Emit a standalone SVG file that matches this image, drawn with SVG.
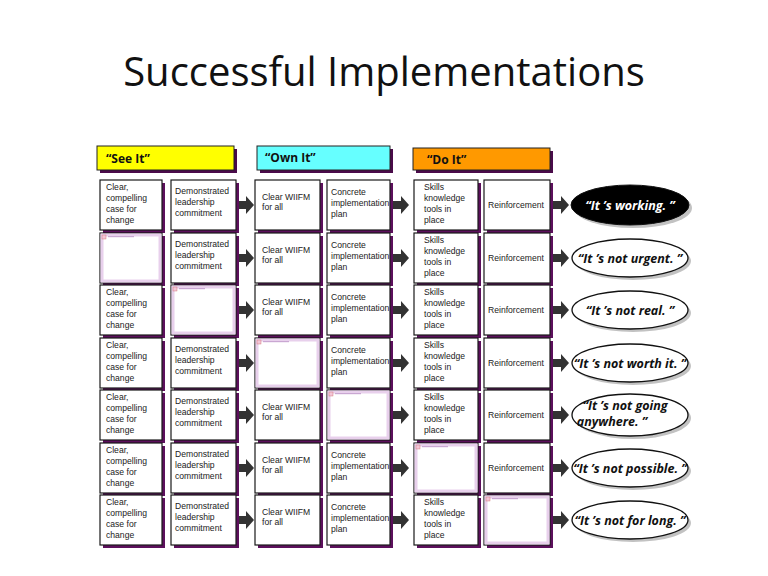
<svg xmlns="http://www.w3.org/2000/svg" xmlns:xlink="http://www.w3.org/1999/xlink" width="768" height="576" viewBox="0 0 768 576">
<style>
.sh{fill:#5c0f5c}
.b{fill:#fff;stroke:#1a1a1a;stroke-width:1.2}
.e{fill:#fff;stroke:#1a1a1a;stroke-width:1.2}
.g{fill:none;stroke:#e8d0ec;stroke-width:3}
.t{font-family:"Liberation Sans",Arial,sans-serif;font-size:8.6px;fill:#222}
.h{font-family:"Open Sans","Noto Sans",sans-serif;font-weight:bold;font-size:12px;fill:#111}
.a{fill:#333}
.q{font-family:"Open Sans","Noto Sans",sans-serif;font-weight:bold;font-style:italic;font-size:12.5px;fill:#111}
.el{fill:#fff;stroke:#111;stroke-width:1.3}
.es{fill:#999;opacity:.6}
</style>
<defs>
<g id="c1"><rect class="sh" x="103" y="3" width="62" height="50"/><rect class="b" x="100" y="0" width="62" height="50"/><text class="t" x="106"><tspan x="106" y="10">Clear,</tspan><tspan x="106" y="21">compelling</tspan><tspan x="106" y="32">case for</tspan><tspan x="106" y="43">change</tspan></text></g>
<g id="c2"><rect class="sh" x="174" y="3" width="65" height="50"/><rect class="b" x="171" y="0" width="65" height="50"/><text class="t"><tspan x="175" y="14">Demonstrated</tspan><tspan x="175" y="25">leadership</tspan><tspan x="175" y="36">commitment</tspan></text></g>
<g id="c3"><rect class="sh" x="258" y="3" width="65" height="50"/><rect class="b" x="255" y="0" width="65" height="50"/><text class="t"><tspan x="262" y="20">Clear WIIFM</tspan><tspan x="262" y="30">for all</tspan></text></g>
<g id="c4"><rect class="sh" x="330" y="3" width="63" height="50"/><rect class="b" x="327" y="0" width="63" height="50"/><text class="t"><tspan x="331" y="15">Concrete</tspan><tspan x="331" y="26">implementation</tspan><tspan x="331" y="37">plan</tspan></text></g>
<g id="c5"><rect class="sh" x="417" y="3" width="64" height="50"/><rect class="b" x="414" y="0" width="64" height="50"/><text class="t"><tspan x="424" y="10">Skills</tspan><tspan x="424" y="21">knowledge</tspan><tspan x="424" y="32">tools in</tspan><tspan x="424" y="43">place</tspan></text></g>
<g id="c6"><rect class="sh" x="487" y="3" width="66" height="50"/><rect class="b" x="484" y="0" width="66" height="50"/><text class="t" x="488" y="28">Reinforcement</text></g>
<g id="ar"><path class="a" d="M0 -4h9v-5l8 9l-8 9v-5h-9z"/></g>
<g id="ph"><rect x="2" y="2" width="4" height="4" fill="#f3c6d8" stroke="#c66" stroke-width=".4"/><rect x="8" y="3" width="26" height="1.2" fill="#c9a7d2"/></g>
</defs>
<text x="384" y="86" text-anchor="middle" font-family="'Open Sans','Noto Sans',sans-serif" font-size="40" fill="#111">Successful Implementations</text>
<g id="headers">
<g id="see"><rect x="100" y="149" width="137" height="24" fill="#4a0b4a"/><rect x="97" y="146" width="137" height="24" fill="#ffff00" stroke="#222"/><text class="h" x="106" y="163">“See It”</text></g>
<g id="own"><rect x="260" y="149" width="133" height="24" fill="#4a0b4a"/><rect x="257" y="146" width="133" height="24" fill="#66ffff" stroke="#222"/><text class="h" x="265" y="162">“Own It”</text></g>
<g id="do"><rect x="416" y="151" width="137" height="22" fill="#4a0b4a"/><rect x="413" y="148" width="137" height="22" fill="#ff9900" stroke="#222"/><text class="h" x="427" y="164">“Do It”</text></g>
</g>
<g id="connectors">
<use href="#ar" x="237" y="205"/><use href="#ar" x="392" y="205"/><use href="#ar" x="552" y="205"/>
<use href="#ar" x="237" y="258"/><use href="#ar" x="392" y="258"/><use href="#ar" x="552" y="258"/>
<use href="#ar" x="237" y="310"/><use href="#ar" x="392" y="310"/><use href="#ar" x="552" y="310"/>
<use href="#ar" x="237" y="363"/><use href="#ar" x="392" y="363"/><use href="#ar" x="552" y="363"/>
<use href="#ar" x="237" y="415"/><use href="#ar" x="392" y="415"/><use href="#ar" x="552" y="415"/>
<use href="#ar" x="237" y="468"/><use href="#ar" x="392" y="468"/><use href="#ar" x="552" y="468"/>
<use href="#ar" x="237" y="520"/><use href="#ar" x="392" y="520"/><use href="#ar" x="552" y="520"/>
</g>
<g id="row1" transform="translate(0,180)">
<use href="#c1"/><use href="#c2"/><use href="#c3"/><use href="#c4"/><use href="#c5"/><use href="#c6"/>
<g id="o1"><ellipse class="es" cx="633" cy="28" rx="59" ry="20"/><ellipse cx="630" cy="25" rx="59" ry="20" fill="#000" stroke="#111"/><text class="q" x="630" y="30" text-anchor="middle" fill="#fff" style="fill:#fff">“It ’s working. ”</text></g>
</g>
<g id="row2" transform="translate(0,233)">
<g id="e2"><rect class="sh" x="103" y="3" width="62" height="50"/><rect class="e" x="100" y="0" width="62" height="50"/><rect class="g" x="102" y="2" width="58" height="46"/><use href="#ph" x="100"/></g>
<use href="#c2"/><use href="#c3"/><use href="#c4"/><use href="#c5"/><use href="#c6"/>
<g id="o2"><ellipse class="es" cx="633" cy="28" rx="58" ry="19"/><ellipse class="el" cx="630" cy="25" rx="58" ry="19"/><text class="q" x="630" y="30" text-anchor="middle">“It ’s not urgent. ”</text></g>
</g>
<g id="row3" transform="translate(0,285)">
<use href="#c1"/>
<g id="e3"><rect class="sh" x="174" y="3" width="65" height="50"/><rect class="e" x="171" y="0" width="65" height="50"/><rect class="g" x="173" y="2" width="61" height="46"/><use href="#ph" x="171"/></g>
<use href="#c3"/><use href="#c4"/><use href="#c5"/><use href="#c6"/>
<g id="o3"><ellipse class="es" cx="633" cy="28" rx="58" ry="19"/><ellipse class="el" cx="630" cy="25" rx="58" ry="19"/><text class="q" x="630" y="30" text-anchor="middle">“It ’s not real. ”</text></g>
</g>
<g id="row4" transform="translate(0,338)">
<use href="#c1"/><use href="#c2"/>
<g id="e4"><rect class="sh" x="258" y="3" width="65" height="50"/><rect class="e" x="255" y="0" width="65" height="50"/><rect class="g" x="257" y="2" width="61" height="46"/><use href="#ph" x="255"/></g>
<use href="#c4"/><use href="#c5"/><use href="#c6"/>
<g id="o4"><ellipse class="es" cx="633" cy="28" rx="58" ry="19"/><ellipse class="el" cx="630" cy="25" rx="58" ry="19"/><text class="q" x="630" y="30" text-anchor="middle">“It ’s not worth it. ”</text></g>
</g>
<g id="row5" transform="translate(0,390)">
<use href="#c1"/><use href="#c2"/><use href="#c3"/>
<g id="e5"><rect class="sh" x="330" y="3" width="63" height="50"/><rect class="e" x="327" y="0" width="63" height="50"/><rect class="g" x="329" y="2" width="59" height="46"/><use href="#ph" x="327"/></g>
<use href="#c5"/><use href="#c6"/>
<g id="o5"><ellipse class="es" cx="633" cy="28" rx="58" ry="21"/><ellipse class="el" cx="630" cy="25" rx="58" ry="21"/><text class="q" text-anchor="middle"><tspan x="625" y="20">“It ’s not going</tspan><tspan x="612" y="36">anywhere. ”</tspan></text></g>
</g>
<g id="row6" transform="translate(0,443)">
<use href="#c1"/><use href="#c2"/><use href="#c3"/><use href="#c4"/>
<g id="e6"><rect class="sh" x="417" y="3" width="64" height="50"/><rect class="e" x="414" y="0" width="64" height="50"/><rect class="g" x="416" y="2" width="60" height="46"/><use href="#ph" x="414"/></g>
<use href="#c6"/>
<g id="o6"><ellipse class="es" cx="633" cy="28" rx="58" ry="19"/><ellipse class="el" cx="630" cy="25" rx="58" ry="19"/><text class="q" x="630" y="30" text-anchor="middle">“It ’s not possible. ”</text></g>
</g>
<g id="row7" transform="translate(0,495)">
<use href="#c1"/><use href="#c2"/><use href="#c3"/><use href="#c4"/><use href="#c5"/>
<g id="e7"><rect class="sh" x="487" y="3" width="66" height="50"/><rect class="e" x="484" y="0" width="66" height="50"/><rect class="g" x="486" y="2" width="62" height="46"/><use href="#ph" x="484"/></g>
<g id="o7"><ellipse class="es" cx="633" cy="28" rx="58" ry="19"/><ellipse class="el" cx="630" cy="25" rx="58" ry="19"/><text class="q" x="630" y="30" text-anchor="middle">“It ’s not for long. ”</text></g>
</g>
</svg>
